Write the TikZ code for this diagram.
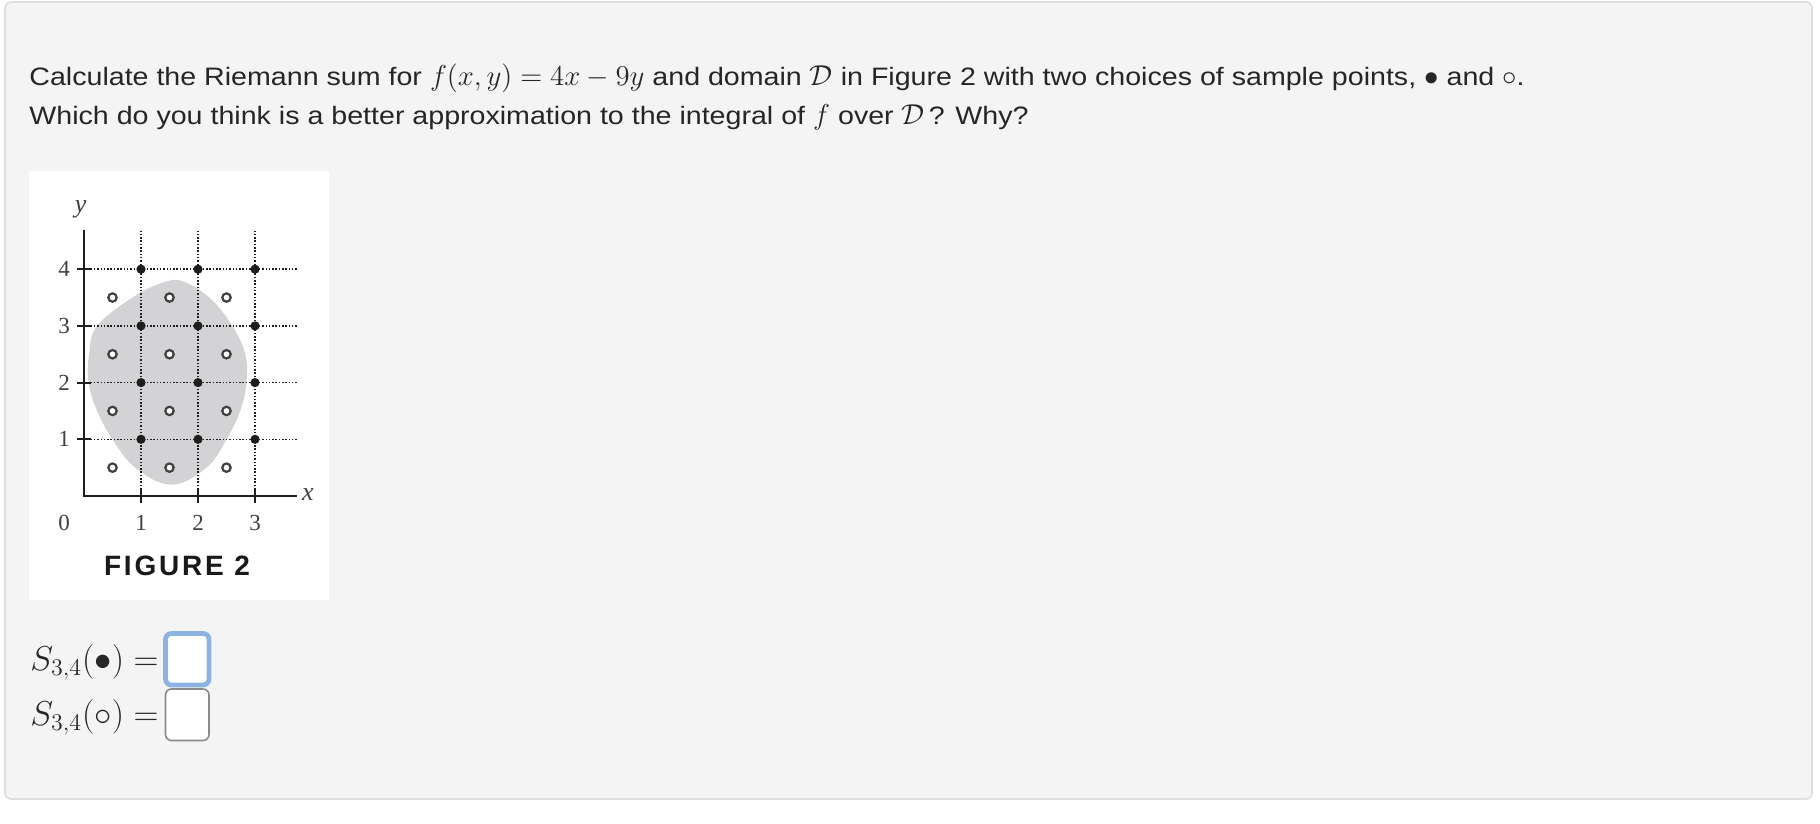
\documentclass[tikz,border=0pt]{standalone}
\usepackage[no-math]{fontspec}
\setmainfont[FakeStretch=1.135]{Liberation Sans}
\newfontfamily\figserif{Liberation Serif}
\newfontfamily\figcap[LetterSpace=10]{Liberation Sans}
\usepackage{amsmath}
\newcommand{\qm}[1]{{\fontsize{15.2}{18}\selectfont$#1$}}
\definecolor{panelbg}{HTML}{F4F4F4}
\definecolor{panelline}{HTML}{DEDEDE}
\definecolor{txt}{HTML}{262626}
\definecolor{blobgray}{HTML}{D3D3D5}
\definecolor{figink}{HTML}{1E1E1E}
\definecolor{glow}{HTML}{8DB3E2}
\definecolor{boxline}{HTML}{8A8A8A}
\tikzset{
  qtext/.style={anchor=base west, inner sep=0pt, text=txt, font=\fontsize{12.6}{15}\selectfont},
  dotline/.style={figink, line width=0.75pt, dash pattern=on 0.75pt off 0.9pt},
  axisline/.style={figink, line width=1pt},
  ticklbl/.style={inner sep=0pt, text=figink!85, font=\figserif\fontsize{11.5}{13}\selectfont},
  fdot/.style={circle, fill=figink, inner sep=0pt, minimum size=4.6pt},
  odot/.style={circle, draw=figink!85, fill=white, line width=1.1pt, inner sep=0pt, minimum size=4.2pt},
  eqtext/.style={anchor=base west, inner sep=0pt, text=txt, font=\fontsize{17.2}{20}\selectfont},
  ansbox/.style={rounded corners=3pt, fill=white},
}
\begin{document}
\begin{tikzpicture}[x=0.5pt,y=-0.5pt]
\useasboundingbox (0,0) rectangle (1820,824);
\fill[white] (0,0) rectangle (1820,824);
\draw[draw=panelline, fill=panelbg, line width=0.8pt, rounded corners=3pt] (5,2) rectangle (1812,799);

\node[qtext] (q1) at (29,86) {Calculate the Riemann sum for \qm{f(x,y)=4x-9y} and domain \qm{\mathcal{D}} in Figure 2 with two choices of sample points, \qm{\bullet} and \qm{\circ}.};
\node[qtext] (q2) at (29,125) {Which do you think is a better approximation to the integral of \qm{f} over \qm{\mathcal{D}}\,? Why?};

% figure card
\fill[white] (29,171) rectangle (329,600);

\begin{scope}[shift={(42pt,-248pt)}, x=28.5pt, y=28.35pt]
  \fill[blobgray] plot[smooth cycle, tension=0.65] coordinates {
    (1.53,0.2) (2.15,0.5) (2.5,1.0) (2.74,1.5) (2.85,2.0) (2.83,2.5)
    (2.6,3.0) (2.22,3.48) (1.75,3.78) (1.4,3.77) (0.85,3.5) (0.23,3.0)
    (0.09,2.5) (0.08,2.0) (0.23,1.5) (0.5,1.0) (0.9,0.5)};
  \foreach \i in {1,2,3} \draw[dotline] (\i,0) -- (\i,4.7);
  \foreach \j in {1,2,3,4} \draw[dotline] (0,\j) -- (3.75,\j);
  \draw[axisline] (0,4.7) coordinate (ytop) -- (0,0) coordinate (orig) -- (3.73,0) coordinate (xend);
  \foreach \j in {1,2,3,4} {
    \draw[axisline] (-0.12,\j) -- (0.12,\j);
    \node[ticklbl] (yl\j) at (-0.35,\j) {\j};
  }
  \foreach \i in {1,2,3} {
    \draw[axisline] (\i,-0.12) -- (\i,0.12);
    \node[ticklbl] (xl\i) at (\i,-0.47) {\i};
  }
  \node[ticklbl] (zero) at (-0.35,-0.47) {0};
  \node[ticklbl, font=\figserif\itshape\fontsize{13}{14}\selectfont] (ylab) at (-0.06,5.06) {y};
  \node[ticklbl, font=\figserif\itshape\fontsize{13}{14}\selectfont] (xlab) at (3.93,0.02) {x};
  \foreach \i in {1,2,3} \foreach \j in {1,2,3,4} \node[fdot] (f\i\j) at (\i,\j) {};
  \foreach \i in {1,2,3} \foreach \j in {1,2,3,4} \node[odot] (o\i\j) at (\i-0.5,\j-0.5) {};
\end{scope}
\node[inner sep=0pt, text=black!90, font=\figcap\bfseries\fontsize{14}{16}\selectfont] (cap) at (177,566) {FIGURE 2};

% answers
\node[eqtext] (e1) at (30,670) {$S_{3,4}(\bullet)=$};
\node[eqtext] (e2) at (30,725) {$S_{3,4}(\circ)=$};
\draw[ansbox, draw=glow, line width=2.4pt] (165.5,633.5) rectangle (209,685) node[midway, inner sep=0pt] (b1) {};
\draw[ansbox, draw=boxline, line width=0.8pt] (165.5,689) rectangle (209,740.5) node[midway, inner sep=0pt] (b2) {};
\end{tikzpicture}
\end{document}
